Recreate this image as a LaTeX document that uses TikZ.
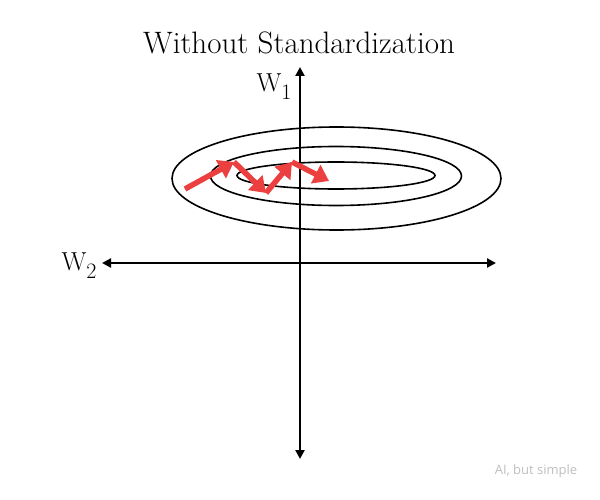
\documentclass[tikz,border=0pt]{standalone}
\usepackage{fontspec}
\newfontfamily\wmfont{Open Sans}
\usetikzlibrary{arrows.meta}
\definecolor{stepred}{RGB}{236,64,64}
\definecolor{wmgray}{RGB}{190,190,190}
\begin{document}
\begin{tikzpicture}[x=1pt,y=-1pt,
  axis/.style={line width=2.2pt,{Triangle[length=9pt,width=9pt]}-{Triangle[length=9pt,width=9pt]}},
  contour/.style={line width=1.6pt},
  gstep/.style={stepred,line width=5.5pt,-{Triangle[length=15pt,width=20pt]}},
  lab/.style={font=\fontsize{26}{30}\selectfont,inner sep=0pt}]
\useasboundingbox (0,0) rectangle (600,500);
\coordinate (ytop) at (300,67);
\coordinate (ybot) at (300,459);
\coordinate (xl) at (102,263);
\coordinate (xr) at (496,263);
\draw[axis] (ybot) -- (ytop);
\draw[axis] (xl) -- (xr);
\draw[contour] (336.5,178.5) ellipse [x radius=164.5, y radius=51.5];
\draw[contour] (336,176) ellipse [x radius=125.5, y radius=29.5];
\draw[contour] (336,175.5) ellipse [x radius=99, y radius=13.5];
\coordinate (p0) at (185,189);
\coordinate (p1) at (234,162);
\coordinate (p2) at (266,193);
\coordinate (p3) at (292,162);
\coordinate (p4) at (329,181);
\draw[gstep] (p0) -- (p1);
\draw[gstep] (p1) -- (p2);
\draw[gstep] (p2) -- (p3);
\draw[gstep] (p3) -- (p4);
\node[font=\fontsize{31}{36}\selectfont,inner sep=0pt] (title) at (299,43) {Without Standardization};
\node[lab] (w1) at (274,87) {W\raisebox{-8pt}{\fontsize{22}{26}\selectfont 1}};
\node[lab] (w2) at (79,266) {W\raisebox{-8pt}{\fontsize{22}{26}\selectfont 2}};
\node[font=\wmfont\fontsize{13}{15}\selectfont,text=wmgray,inner sep=0pt] (wm) at (536,471) {AI, but simple};
\end{tikzpicture}
\end{document}
